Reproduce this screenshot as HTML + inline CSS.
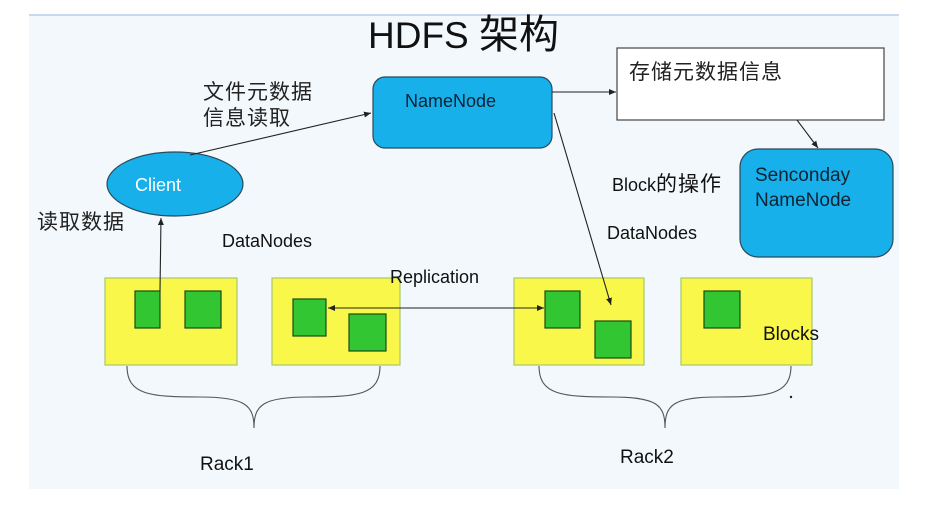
<!DOCTYPE html>
<html><head><meta charset="utf-8"><style>
body{margin:0;background:#fff;}
svg{display:block}
text{font-family:"Liberation Sans","Noto Sans CJK SC",sans-serif;}
</style></head><body>
<svg width="951" height="509" viewBox="0 0 951 509" xmlns="http://www.w3.org/2000/svg">
<defs><marker id="a" markerWidth="8" markerHeight="8" refX="7" refY="4" orient="auto" markerUnits="userSpaceOnUse"><path d="M0,1 L7,4 L0,7 z" fill="#222"/></marker>
<marker id="b" markerWidth="8" markerHeight="8" refX="1" refY="4" orient="auto" markerUnits="userSpaceOnUse"><path d="M8,1 L1,4 L8,7 z" fill="#222"/></marker></defs>
<rect x="29" y="14" width="870" height="475" fill="#f3f8fc"/>
<line x1="29" y1="15" x2="899" y2="15" stroke="#c9d8ea" stroke-width="2"/>
<text x="368" y="48" font-size="37" fill="#111">HDFS <tspan font-size="40">架构</tspan></text>
<rect x="373" y="77" width="179" height="71" rx="12" fill="#17b0ea" stroke="#2a4a5a" stroke-width="1.2"/>
<text x="405" y="107" font-size="18" fill="#123">NameNode</text>
<rect x="617" y="48" width="267" height="72" fill="#fff" stroke="#444" stroke-width="1.2"/>
<text x="629" y="79" font-size="21" fill="#222" letter-spacing="1">存储元数据信息</text>
<rect x="740" y="149" width="153" height="108" rx="18" fill="#17b0ea" stroke="#2a4a5a" stroke-width="1.2"/>
<text x="755" y="181" font-size="19" fill="#123">Senconday</text>
<text x="755" y="206" font-size="19" fill="#123">NameNode</text>
<ellipse cx="175" cy="184" rx="68" ry="32" fill="#17b0ea" stroke="#2a4a5a" stroke-width="1.2"/>
<text x="135" y="191" font-size="18" fill="#fff">Client</text>
<text x="203" y="99" font-size="21" fill="#222" letter-spacing="1">文件元数据</text>
<text x="203" y="125" font-size="21" fill="#222" letter-spacing="1">信息读取</text>
<text x="37" y="229" font-size="21" fill="#222" letter-spacing="1">读取数据</text>
<text x="222" y="247" font-size="18" fill="#111">DataNodes</text>
<text x="612" y="191" font-size="18" fill="#111">Block<tspan font-size="21" letter-spacing="1">的操作</tspan></text>
<text x="607" y="239" font-size="18" fill="#111">DataNodes</text>
<g fill="#f9f74a" stroke="#a9c86a" stroke-width="1.2">
<rect x="105" y="278" width="132" height="87"/><rect x="272" y="278" width="128" height="87"/>
<rect x="514" y="278" width="130" height="87"/><rect x="681" y="278" width="131" height="87"/></g>
<text x="390" y="283" font-size="18" fill="#111">Replication</text>
<g fill="#33c633" stroke="#1b4a1b" stroke-width="1.2">
<rect x="135" y="291" width="25" height="37"/><rect x="185" y="291" width="36" height="37"/>
<rect x="293" y="299" width="33" height="37"/><rect x="349" y="314" width="37" height="37"/>
<rect x="545" y="291" width="35" height="37"/><rect x="595" y="321" width="36" height="37"/>
<rect x="704" y="291" width="36" height="37"/></g>
<text x="763" y="340" font-size="19" fill="#111">Blocks</text>
<g stroke="#222" stroke-width="1.1" fill="none">
<line x1="190" y1="155" x2="371" y2="113" marker-end="url(#a)"/>
<line x1="552" y1="92" x2="616" y2="92" marker-end="url(#a)"/>
<line x1="797" y1="120" x2="818" y2="148" marker-end="url(#a)"/>
<line x1="554" y1="113" x2="611" y2="305" marker-end="url(#a)"/>
<line x1="160" y1="291" x2="161" y2="218" marker-end="url(#a)"/>
<line x1="328" y1="308" x2="544" y2="308" marker-start="url(#b)" marker-end="url(#a)"/>
<path d="M127,366 C127,395 150,397 200,397 C245,397 254,405 254,428 C254,405 263,397 308,397 C358,397 380,395 380,366" stroke="#555"/>
<path d="M539,366 C539,395 562,397 612,397 C657,397 665,405 665,428 C665,405 673,397 718,397 C768,397 791,395 791,366" stroke="#555"/>
</g>
<circle cx="791" cy="397" r="1.2" fill="#222"/>
<text x="200" y="470" font-size="19" fill="#111">Rack1</text>
<text x="620" y="463" font-size="19" fill="#111">Rack2</text>
</svg>
</body></html>
